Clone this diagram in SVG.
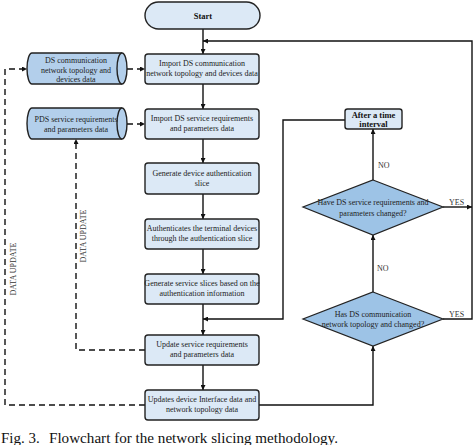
<svg xmlns="http://www.w3.org/2000/svg" width="474" height="445" viewBox="0 0 474 445">
<defs>
<marker id="ah" viewBox="0 0 10 10" refX="10" refY="5" markerWidth="5" markerHeight="5" orient="auto" markerUnits="userSpaceOnUse">
<path d="M0,0 L10,5 L0,10 Z" fill="#111"/>
</marker>
<style>
.box{fill:#dce9f6;stroke:#222;stroke-width:1.4}
.cyl{fill:#b3cfeb;stroke:#222;stroke-width:1.4}
.dia{fill:#9dc3e6;stroke:#222;stroke-width:1.2}
.t{font-family:"Liberation Serif",serif;font-size:8px;fill:#222;text-anchor:middle}
.tb{font-family:"Liberation Serif",serif;font-size:8.5px;font-weight:bold;fill:#111;text-anchor:middle}
.lbl{font-family:"Liberation Serif",serif;font-size:8px;fill:#333}
.ln{fill:none;stroke:#111;stroke-width:1.4}
.dash{fill:none;stroke:#111;stroke-width:1.4;stroke-dasharray:6,4}
.cap{font-family:"Liberation Serif",serif;font-size:15px;fill:#111}
</style>
</defs>
<rect width="474" height="445" fill="#fff"/>

<g id="connectors">
<path class="ln" d="M203,29 V54" marker-end="url(#ah)"/>
<path class="ln" d="M203,84 V109" marker-end="url(#ah)"/>
<path class="ln" d="M203,139 V163" marker-end="url(#ah)"/>
<path class="ln" d="M203,194 V219" marker-end="url(#ah)"/>
<path class="ln" d="M203,249 V274" marker-end="url(#ah)"/>
<path class="ln" d="M203,304 V335" marker-end="url(#ah)"/>
<path class="ln" d="M203,365 V390" marker-end="url(#ah)"/>
<path class="ln" d="M259,405 H373 V346" marker-end="url(#ah)"/>
<path class="ln" d="M373,292 V235" marker-end="url(#ah)"/>
<path class="ln" d="M373,180 V129" marker-end="url(#ah)"/>
<path class="ln" d="M345,120 H283 V319 H203" marker-end="url(#ah)"/>
<path class="ln" d="M443,207 H472" marker-end="url(#ah)"/>
<path class="ln" d="M443,319 H472 V41 H203" marker-end="url(#ah)"/>
<path class="dash" d="M127,69 H145" marker-end="url(#ah)"/>
<path class="dash" d="M127,124 H145" marker-end="url(#ah)"/>
<path class="dash" d="M145,405 H5 V69 H27" marker-end="url(#ah)"/>
<path class="dash" d="M145,350 H76 V139" marker-end="url(#ah)"/>
<text class="lbl" x="378" y="168">NO</text>
<text class="lbl" x="377" y="271">NO</text>
<text class="lbl" x="449" y="205">YES</text>
<text class="lbl" x="449" y="317">YES</text>
<text class="lbl" transform="translate(16,269) rotate(-90)" text-anchor="middle">DATA UPDATE</text>
<text class="lbl" transform="translate(86,236) rotate(-90)" text-anchor="middle">DATA UPDATE</text>
</g>

<g id="start">
<rect class="box" x="145" y="2" width="115" height="27" rx="13.5"/>
<text class="tb" x="203" y="18.5">Start</text>
</g>

<g id="cyl1">
<path class="cyl" d="M32,53 H122 A5,15.5 0 0 1 122,84 H32 A5,15.5 0 0 1 32,53 Z"/>
<path class="cyl" d="M122,53 A5,15.5 0 0 0 122,84"/>
<text class="t" x="76" y="63">DS communication</text>
<text class="t" x="76" y="72.5">network topology and</text>
<text class="t" x="76" y="82">devices data</text>
</g>

<g id="cyl2">
<path class="cyl" d="M32,108 H122 A5,15.5 0 0 1 122,139 H32 A5,15.5 0 0 1 32,108 Z"/>
<path class="cyl" d="M122,108 A5,15.5 0 0 0 122,139"/>
<text class="t" x="76" y="122">PDS service requirements</text>
<text class="t" x="76" y="131.5">and parameters data</text>
</g>

<g id="box1">
<rect class="box" x="145" y="54" width="114" height="30" rx="3"/>
<text class="t" x="202" y="66">Import DS communication</text>
<text class="t" x="202" y="76">network topology and devices data</text>
</g>

<g id="box2">
<rect class="box" x="145" y="109" width="114" height="30" rx="3"/>
<text class="t" x="202" y="121">Import DS service requirements</text>
<text class="t" x="202" y="131">and parameters data</text>
</g>

<g id="box3">
<rect class="box" x="145" y="163" width="114" height="31" rx="3"/>
<text class="t" x="202" y="176">Generate device authentication</text>
<text class="t" x="202" y="186">slice</text>
</g>

<g id="box4">
<rect class="box" x="145" y="219" width="114" height="30" rx="3"/>
<text class="t" x="202" y="231">Authenticates the terminal devices</text>
<text class="t" x="202" y="241">through the authentication slice</text>
</g>

<g id="box5">
<rect class="box" x="145" y="274" width="114" height="30" rx="3"/>
<text class="t" x="202" y="286">Generate service slices based on the</text>
<text class="t" x="202" y="296">authentication information</text>
</g>

<g id="box6">
<rect class="box" x="145" y="335" width="114" height="30" rx="3"/>
<text class="t" x="202" y="347">Update service requirements</text>
<text class="t" x="202" y="357">and parameters data</text>
</g>

<g id="box7">
<rect class="box" x="145" y="390" width="114" height="30" rx="3"/>
<text class="t" x="202" y="402">Updates device Interface data and</text>
<text class="t" x="202" y="412">network topology data</text>
</g>

<g id="timer">
<rect class="box" x="345" y="109" width="57" height="20" rx="2.5"/>
<text class="tb" x="373.5" y="117.5">After a time</text>
<text class="tb" x="373.5" y="126.5">interval</text>
</g>

<g id="dia1">
<polygon class="dia" points="373,180 443,207 373,235 303,207"/>
<text class="t" x="373" y="205">Have DS service requirements and</text>
<text class="t" x="373" y="215.5">parameters changed?</text>
</g>

<g id="dia2">
<polygon class="dia" points="373,292 443,319 373,346 303,319"/>
<text class="t" x="373" y="317">Has DS communication</text>
<text class="t" x="373" y="326.5">network topology and  changed?</text>
</g>

<g id="caption">
<text class="cap" x="1" y="443">Fig. 3.</text>
<text class="cap" x="49" y="443" textLength="289" lengthAdjust="spacingAndGlyphs">Flowchart for the network slicing methodology.</text>
</g>
</svg>
